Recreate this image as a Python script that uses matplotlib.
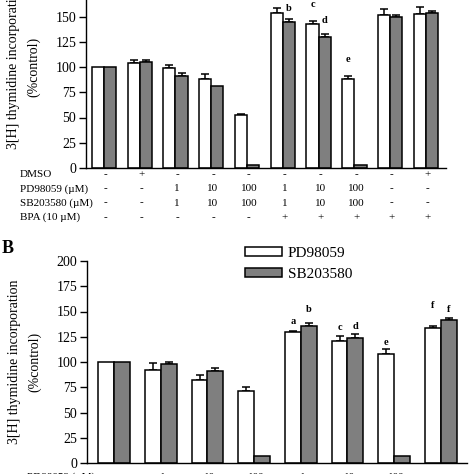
import numpy as np
import matplotlib
matplotlib.use('Agg')
import matplotlib.pyplot as plt
from matplotlib.transforms import blended_transform_factory

plt.rcParams['font.family'] = ['Liberation Serif', 'DejaVu Serif']

# panel A : 10 treatment groups
a_pd = [100, 104, 99, 88, 52, 153, 143, 88, 151, 152]
a_pd_err = [0, 3, 3, 5, 1.5, 5, 3, 3, 6, 7]
a_sb = [100, 105, 91, 81, 3, 145, 130, 3, 150, 153]
a_sb_err = [0, 2, 3, 0, 0, 3, 3, 0, 1, 2]
a_rows = ['DMSO', 'PD98059 (\u00b5M)', 'SB203580 (\u00b5M)', 'BPA (10 \u00b5M)']
a_table = [
    ['-', '+', '-', '-', '-', '-', '-', '-', '-', '+'],
    ['-', '-', '1', '10', '100', '1', '10', '100', '-', '-'],
    ['-', '-', '1', '10', '100', '1', '10', '100', '-', '-'],
    ['-', '-', '-', '-', '-', '+', '+', '+', '+', '+'],
]
# letters: (group, series 0=PD 1=SB, letter, height of letter base)
a_letters = [(5, 1, 'b', 153), (6, 0, 'c', 157), (6, 1, 'd', 142), (7, 0, 'e', 103),
             (8, 1, 'f', 164)]

# panel B : 8 groups
b_pd = [100, 92, 82, 71, 130, 121, 108, 134]
b_pd_err = [0, 7, 5, 4, 1, 5, 5, 2]
b_sb = [100, 98, 91, 7, 136, 124, 7, 142]
b_sb_err = [0, 2, 3, 0, 3, 3.5, 0, 1.5]
b_rows = ['PD98059 (\u00b5M)']
b_table = [['-', '1', '10', '100', '1', '10', '100', '-']]
b_letters = [(4, 0, 'a', 136), (4, 1, 'b', 148), (5, 0, 'c', 130), (5, 1, 'd', 131),
             (6, 0, 'e', 115), (7, 0, 'f', 151), (7, 1, 'f', 148)]

W = 474.0
fig = plt.figure(figsize=(4.74, 4.74), dpi=100)

def px_axes(left, right, y0, y200):
    return fig.add_axes([left / W, 1 - y0 / W, (right - left) / W, (y0 - y200) / W])

axA = px_axes(86, 446, 168, -34)
axB = px_axes(87, 467, 463, 261)

def draw(ax, pd_v, pd_e, sb_v, sb_e, letters, xlim):
    w = 0.34
    x = np.arange(len(pd_v))
    ax.bar(x - w / 2, pd_v, w, color='white', edgecolor='black', linewidth=1.1, zorder=2)
    ax.bar(x + w / 2, sb_v, w, color='#7f7f7f', edgecolor='black', linewidth=1.1, zorder=2)
    for xs, v, e in [(x - w / 2, pd_v, pd_e), (x + w / 2, sb_v, sb_e)]:
        v = np.array(v, float)
        e = np.array(e, float)
        m = e > 0
        ax.errorbar(xs[m], v[m], yerr=[np.zeros(m.sum()), e[m]], fmt='none',
                    ecolor='black', elinewidth=1.1, capsize=3, capthick=1.1, zorder=1)
    for g, s, t, yb in letters:
        ax.text(g + (s - 0.5) * w, yb, t, ha='center', va='bottom',
                fontsize=7.5, fontweight='bold')
    ax.set_xlim(*xlim)
    ax.set_ylim(0, 200)
    ax.set_yticks(np.arange(0, 201, 25))
    ax.set_xticks([])
    for sp in ['top', 'right']:
        ax.spines[sp].set_visible(False)
    for sp in ['left', 'bottom']:
        ax.spines[sp].set_linewidth(1.0)
    ax.tick_params(axis='y', length=5, width=1.0, labelsize=10, pad=2)
    ax.set_ylabel('3[H] thymidine incorporation\n(%control)', fontsize=10,
                  linespacing=1.6, labelpad=11)

draw(axA, a_pd, a_pd_err, a_sb, a_sb_err, a_letters, (-0.5, 9.56))
draw(axB, b_pd, b_pd_err, b_sb, b_sb_err, b_letters, (-0.58, 7.56))

def table(ax, rows, cells, label_x, first_dy):
    tr = blended_transform_factory(ax.transData, ax.transAxes)
    for i, (name, row) in enumerate(zip(rows, cells)):
        yy = -(first_dy + 14.3 * i) / 202.0
        ax.text(label_x, yy, name, transform=ax.transAxes, ha='left', va='center', fontsize=8)
        for j, t in enumerate(row):
            ax.text(j + 0.05, yy, t, transform=tr, ha='center', va='center', fontsize=8)

table(axA, a_rows, a_table, (20 - 86) / 360.0, 6.5)
table(axB, b_rows, b_table, (27 - 87) / 380.0, 14)

fig.text(8 / W, 1 - 248 / W, 'B', fontsize=13, fontweight='bold', ha='center', va='center')

axB.legend(['PD98059', 'SB203580'], loc='upper left', bbox_to_anchor=(245 / W, 1 - 247 / W),
           bbox_transform=fig.transFigure, frameon=False, fontsize=11, borderpad=0,
           borderaxespad=0, handlelength=2.4, handleheight=0.5, handletextpad=0.4,
           labelspacing=0.5)

fig.savefig('out.png', dpi=100)
